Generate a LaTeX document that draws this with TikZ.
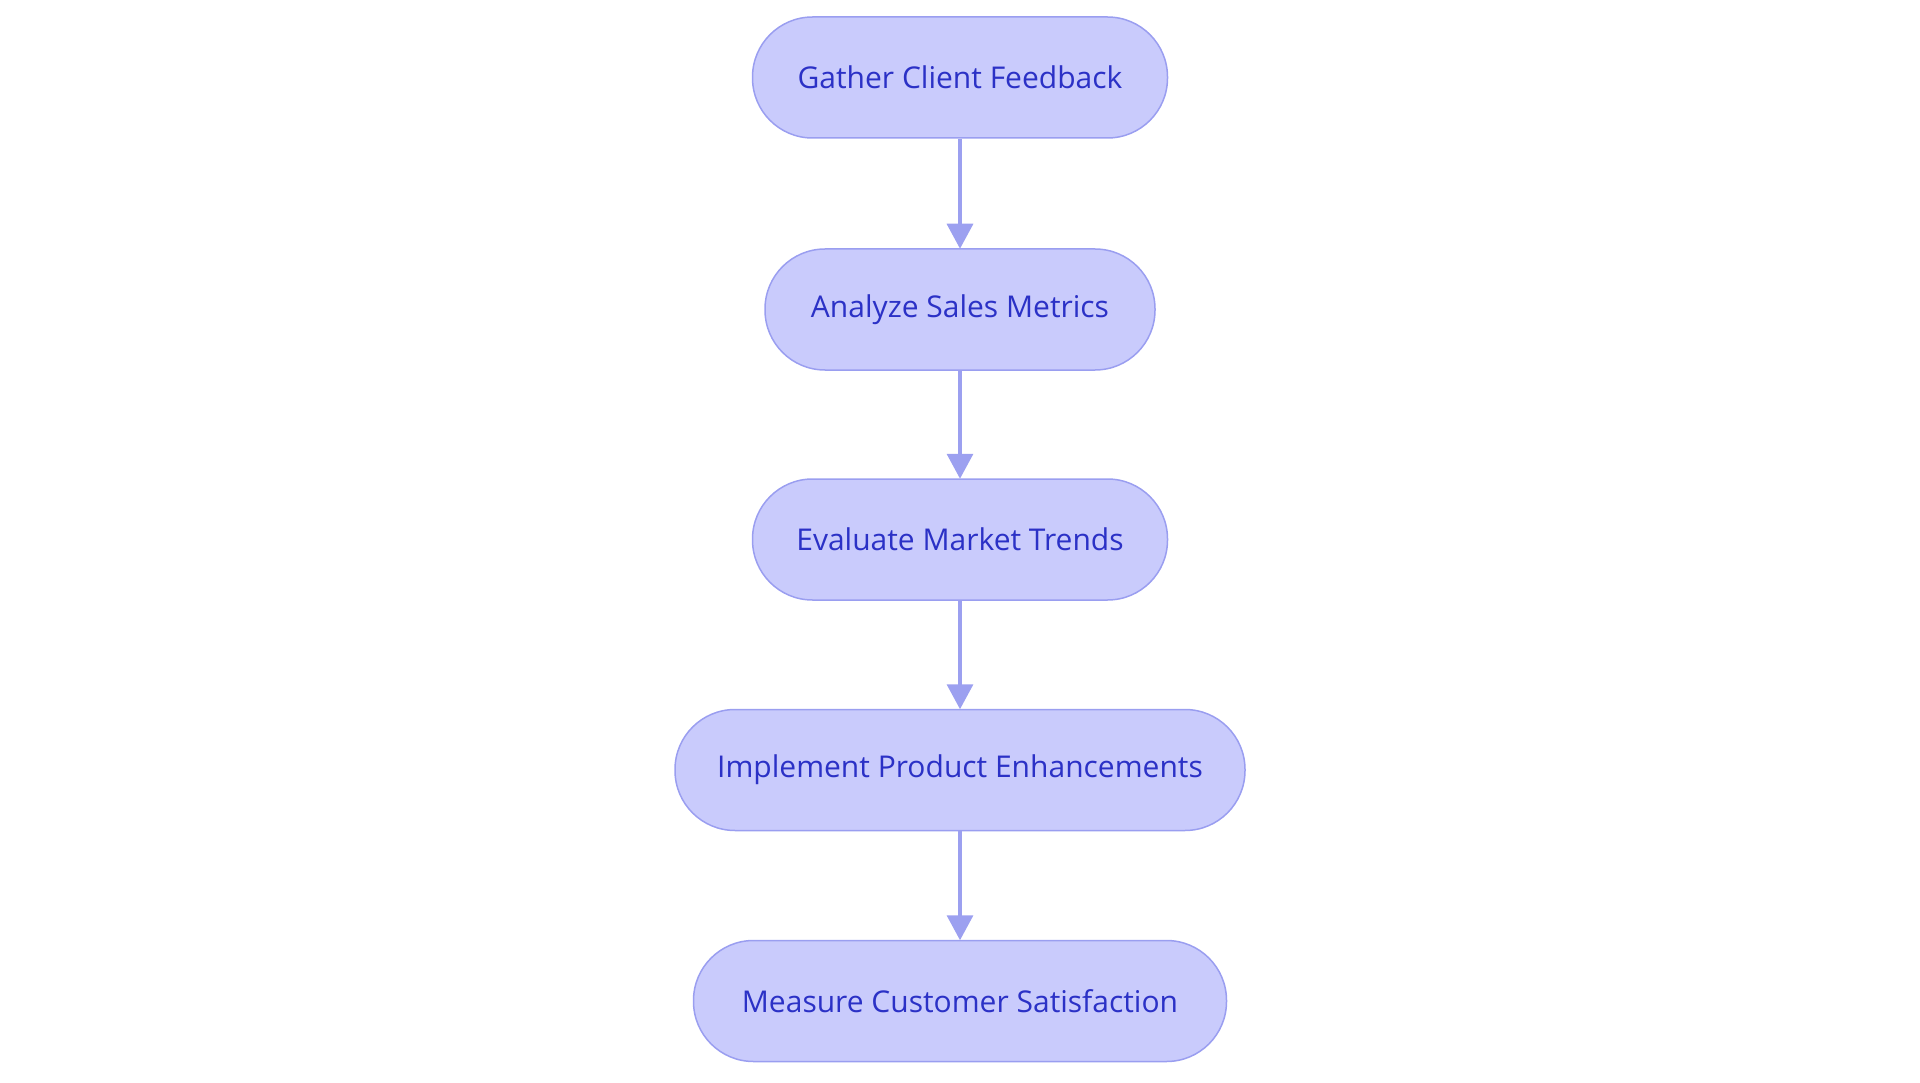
\documentclass[tikz,border=0pt]{standalone}
\usepackage{fontspec}
\setmainfont{Open Sans}
\usetikzlibrary{arrows.meta}
\definecolor{nodefill}{HTML}{C9CBFC}
\definecolor{nodeline}{HTML}{9A9EF0}
\definecolor{nodetext}{HTML}{2B31C6}
\definecolor{arrowcol}{HTML}{9CA0F0}
\tikzset{
  stepbox/.style={draw=nodeline, line width=1.5pt, fill=nodefill, text=nodetext,
    rounded corners=60pt, minimum height=121pt, inner sep=0pt,
    font=\fontsize{30}{36}\selectfont},
  flowarrow/.style={draw=arrowcol, line width=3.5pt,
    -{Triangle[length=25pt,width=26pt]}, shorten >=-0.5pt}
}
\begin{document}
\begin{tikzpicture}[x=1pt,y=-1pt]
\useasboundingbox (0,0) rectangle (1920,1083);
\node[stepbox, minimum width=415pt] (n1) at (960,77.5) {Gather Client Feedback};
\node[stepbox, minimum width=390pt] (n2) at (960,309.5) {Analyze Sales Metrics};
\node[stepbox, minimum width=415pt] (n3) at (960,539.5) {Evaluate Market Trends};
\node[stepbox, minimum width=570pt] (n4) at (960,770) {Implement Product Enhancements};
\node[stepbox, minimum width=533pt] (n5) at (960,1001) {Measure Customer Satisfaction};
\draw[flowarrow] (n1) -- (n2);
\draw[flowarrow] (n2) -- (n3);
\draw[flowarrow] (n3) -- (n4);
\draw[flowarrow] (n4) -- (n5);
\end{tikzpicture}
\end{document}
